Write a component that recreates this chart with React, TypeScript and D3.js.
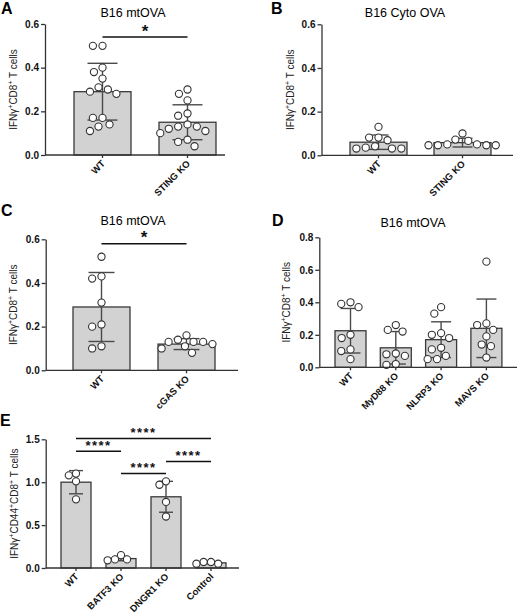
import React, { useEffect, useRef } from "react";
import * as d3 from "d3";

const W = 520;
const H = 615;
const FONT = "Arial, 'Liberation Sans', Helvetica, sans-serif";

// ---- data ----
const aCats = ["WT", "STING KO"];
const aWT = [0.50, 0.50, 0.40, 0.38, 0.35, 0.31, 0.30, 0.29, 0.28, 0.17, 0.17, 0.14, 0.13, 0.11];
const aKO = [0.30, 0.28, 0.25, 0.19, 0.18, 0.14, 0.13, 0.13, 0.12, 0.11, 0.10, 0.07, 0.06, 0.04];
const aMeans = [0.29, 0.15];
const aSD = [0.13, 0.08];

const bCats = ["WT", "STING KO"];
const bWT = [0.13, 0.081, 0.081, 0.069, 0.041, 0.031, 0.031, 0.031, 0.035];
const bKO = [0.10, 0.072, 0.066, 0.05, 0.046, 0.046, 0.046, 0.046, 0.05];
const bMeans = [0.06, 0.058];
const bSD = [0.033, 0.02];

const cCats = ["WT", "cGAS KO"];
const cWT = [0.52, 0.43, 0.42, 0.31, 0.21, 0.20, 0.11, 0.10];
const cKO = [0.16, 0.14, 0.13, 0.13, 0.13, 0.12, 0.11, 0.10, 0.08];
const cMeans = [0.29, 0.12];
const cSD = [0.158, 0.025];

const dCats = ["WT", "MyD88 KO", "NLRP3 KO", "MAVS KO"];
const dWT = [0.40, 0.39, 0.37, 0.20, 0.18, 0.11, 0.10, 0.05];
const dMyD88 = [0.26, 0.23, 0.22, 0.085, 0.08, 0.07, 0.02, 0.015];
const dNLRP3 = [0.37, 0.33, 0.21, 0.20, 0.18, 0.12, 0.11, 0.07, 0.05, 0.05];
const dMAVS = [0.65, 0.27, 0.26, 0.23, 0.19, 0.14, 0.13, 0.06];
const dMeans = [0.225, 0.12, 0.17, 0.24];
const dSD = [0.137, 0.10, 0.11, 0.18];

const eCats = ["WT", "BATF3 KO", "DNGR1 KO", "Control"];
const eWT = [1.10, 1.08, 1.01, 0.80];
const eBATF3 = [0.15, 0.10, 0.10, 0.09];
const eDNGR1 = [1.01, 0.97, 0.77, 0.60];
const eCtrl = [0.07, 0.07, 0.05, 0.05];
const eMeans = [1.0, 0.11, 0.83, 0.06];
const eSD = [0.135, 0.025, 0.18, 0.012];

const sigA = [{ a: "WT", b: "STING KO", level: 0.54, label: "*" }];
const sigC = [{ a: "WT", b: "cGAS KO", level: 0.58, label: "*" }];
const sigE = [
    { a: "WT", b: "Control", level: 1.51, label: "****" },
    { a: "WT", b: "BATF3 KO", level: 1.36, label: "****" },
    { a: "DNGR1 KO", b: "Control", level: 1.24, label: "****" },
    { a: "BATF3 KO", b: "DNGR1 KO", level: 1.10, label: "****" },
];

const labelCD8: [string, boolean][] = [["IFNγ", false], ["+", true], ["CD8", false], ["+", true], [" T cells", false]];
const labelCD44: [string, boolean][] = [["IFNγ", false], ["+", true], ["CD44", false], ["+", true], ["CD8", false], ["+", true], [" T cells", false]];

type Sig = { a: string, b: string, level: number, label: string };

type Panel = {
    letter: string, letterX: number, letterY: number,
    title: string, titleX: number, titleY: number,
    cats: string[], points: number[][], means: number[], sds: number[],
    sig: Sig[], yMax: number, ticks: number[], yLabel: [string, boolean][], labelX: number,
    axisX: number, axisEnd: number, yBottom: number, yTop: number,
    c0: number, step: number, bw: number, cap: number, dot: number,
};

const panels: Panel[] = [
    {
        letter: "A", letterX: 1, letterY: 14, title: "B16 mtOVA", titleX: 133, titleY: 16.5,
        cats: aCats, points: [aWT, aKO], means: aMeans, sds: aSD, sig: sigA,
        yMax: 0.6, ticks: [0, 0.2, 0.4, 0.6], yLabel: labelCD8, labelX: 17,
        axisX: 45, axisEnd: 225, yBottom: 155, yTop: 24, c0: 102.5, step: 85, bw: 57, cap: 30, dot: 9.6,
    },
    {
        letter: "B", letterX: 271, letterY: 14, title: "B16 Cyto OVA", titleX: 405, titleY: 16.5,
        cats: bCats, points: [bWT, bKO], means: bMeans, sds: bSD, sig: [],
        yMax: 0.6, ticks: [0, 0.2, 0.4, 0.6], yLabel: labelCD8, labelX: 294,
        axisX: 321.5, axisEnd: 513, yBottom: 155.3, yTop: 24.3, c0: 378.5, step: 84, bw: 57, cap: 20, dot: 9.4,
    },
    {
        letter: "C", letterX: 1, letterY: 215.5, title: "B16 mtOVA", titleX: 133, titleY: 224.5,
        cats: cCats, points: [cWT, cKO], means: cMeans, sds: cSD, sig: sigC,
        yMax: 0.6, ticks: [0, 0.2, 0.4, 0.6], yLabel: labelCD8, labelX: 17,
        axisX: 45.7, axisEnd: 238, yBottom: 370.3, yTop: 239.3, c0: 101.5, step: 85, bw: 57, cap: 26, dot: 9.6,
    },
    {
        letter: "D", letterX: 272, letterY: 225.5, title: "B16 mtOVA", titleX: 413, titleY: 226.5,
        cats: dCats, points: [dWT, dMyD88, dNLRP3, dMAVS], means: dMeans, sds: dSD, sig: [],
        yMax: 0.8, ticks: [0, 0.2, 0.4, 0.6, 0.8], yLabel: labelCD8, labelX: 290,
        axisX: 319.3, axisEnd: 517, yBottom: 367.3, yTop: 237.3, c0: 350.5, step: 45.3, bw: 31, cap: 20, dot: 9.4,
    },
    {
        letter: "E", letterX: 0, letterY: 425.5, title: "", titleX: 0, titleY: 0,
        cats: eCats, points: [eWT, eBATF3, eDNGR1, eCtrl], means: eMeans, sds: eSD, sig: sigE,
        yMax: 1.5, ticks: [0, 0.5, 1.0, 1.5], yLabel: labelCD44, labelX: 18,
        axisX: 45.7, axisEnd: 239, yBottom: 568, yTop: 439.3, c0: 76, step: 45, bw: 30, cap: 14, dot: 7.4,
    },
];

// simple beeswarm: nearest free horizontal offset for each dot
const swarm = (vals: number[], y: (v: number) => number, D: number) => {
    const order = d3.range(vals.length).sort((i, j) => vals[j] - vals[i]);
    const placed: { x: number, y: number }[] = [];
    const out: number[] = new Array(vals.length).fill(0);
    for (const i of order) {
        const py = y(vals[i]);
        const cands = [0];
        for (const p of placed) {
            const dy = Math.abs(p.y - py);
            if (dy < D) {
                const dx = Math.sqrt(D * D - dy * dy);
                cands.push(p.x + dx, p.x - dx);
            }
        }
        cands.sort((a, b) => Math.abs(a) - Math.abs(b) || a - b);
        const ok = cands.find(cx => placed.every(p => (p.x - cx) ** 2 + (p.y - py) ** 2 >= D * D - 0.01)) ?? 0;
        placed.push({ x: ok, y: py });
        out[i] = ok;
    }
    return out;
};

const drawPanel = (svg: d3.Selection<SVGSVGElement, unknown, null, undefined>, p: Panel) => {
    const g = svg.append("g").attr("font-family", FONT);
    const n = p.cats.length;
    const pad = 1 - p.bw / p.step;
    const x = d3.scaleBand<string>()
        .domain(p.cats)
        .range([p.c0 - p.step / 2, p.c0 - p.step / 2 + n * p.step])
        .paddingInner(pad)
        .paddingOuter(pad / 2);
    const y = d3.scaleLinear().domain([0, p.yMax]).range([p.yBottom, p.yTop]);
    const cx = (c: string) => (x(c) ?? 0) + x.bandwidth() / 2;

    g.append("text")
        .attr("x", p.letterX).attr("y", p.letterY)
        .attr("font-size", 16).attr("font-weight", "bold")
        .text(p.letter);

    if (p.title)
        g.append("text")
            .attr("x", p.titleX).attr("y", p.titleY)
            .attr("text-anchor", "middle").attr("font-size", 12.5)
            .text(p.title);

    // bars
    g.append("g").selectAll("rect")
        .data(p.cats)
        .join("rect")
        .attr("x", d => x(d) ?? 0)
        .attr("y", (d, i) => y(p.means[i]))
        .attr("width", x.bandwidth())
        .attr("height", (d, i) => p.yBottom - y(p.means[i]))
        .attr("fill", "#d2d2d2")
        .attr("stroke", "#3a3a3a")
        .attr("stroke-width", 1.3);

    // error bars (mean ± SD)
    const err = g.append("g").attr("stroke", "#4a4a4a").attr("stroke-width", 1.4);
    p.cats.forEach((c, i) => {
        const hi = y(p.means[i] + p.sds[i]);
        const lo = y(Math.max(0, p.means[i] - p.sds[i]));
        err.append("line").attr("x1", cx(c)).attr("x2", cx(c)).attr("y1", hi).attr("y2", lo);
        err.append("line").attr("x1", cx(c) - p.cap / 2).attr("x2", cx(c) + p.cap / 2).attr("y1", hi).attr("y2", hi);
        err.append("line").attr("x1", cx(c) - p.cap / 2).attr("x2", cx(c) + p.cap / 2).attr("y1", lo).attr("y2", lo);
    });

    // dots
    p.cats.forEach((c, i) => {
        const offs = swarm(p.points[i], y, p.dot);
        g.append("g").selectAll("circle")
            .data(p.points[i])
            .join("circle")
            .attr("cx", (d, k) => cx(c) + offs[k])
            .attr("cy", d => y(d))
            .attr("r", 3.6)
            .attr("fill", "white")
            .attr("stroke", "#333")
            .attr("stroke-width", 1.1);
    });

    // y axis
    const ya = g.append("g")
        .attr("transform", `translate(${p.axisX},0)`)
        .call(d3.axisLeft(y).tickValues(p.ticks).tickSize(4).tickSizeOuter(0).tickFormat(d3.format(".1f")));
    ya.select(".domain").attr("stroke", "#333").attr("stroke-width", 1.3);
    ya.selectAll(".tick line").attr("stroke", "#333").attr("stroke-width", 1.3);
    ya.selectAll(".tick text").attr("font-family", FONT).attr("font-size", 10).attr("font-weight", "bold").attr("fill", "#111").attr("x", -6);

    // x axis
    g.append("line")
        .attr("x1", p.axisX).attr("x2", p.axisEnd)
        .attr("y1", p.yBottom).attr("y2", p.yBottom)
        .attr("stroke", "#333").attr("stroke-width", 1.3);
    g.append("g").selectAll("line")
        .data(p.cats)
        .join("line")
        .attr("x1", d => cx(d)).attr("x2", d => cx(d))
        .attr("y1", p.yBottom).attr("y2", p.yBottom + 3)
        .attr("stroke", "#333").attr("stroke-width", 1.3);
    g.append("g").selectAll("text")
        .data(p.cats)
        .join("text")
        .attr("transform", d => `translate(${cx(d) - 1.5},${p.yBottom + 4.5}) rotate(-45)`)
        .attr("text-anchor", "end")
        .attr("dy", "0.7em")
        .attr("font-size", 9.5)
        .attr("font-weight", "bold")
        .attr("fill", "#111")
        .text(d => d);

    // y label
    const yl = g.append("text")
        .attr("transform", `translate(${p.labelX},${(p.yBottom + p.yTop) / 2}) rotate(-90)`)
        .attr("text-anchor", "middle")
        .attr("font-size", 10)
        .attr("fill", "#222");
    p.yLabel.forEach(([t, sup], k) => {
        const prevSup = k > 0 && p.yLabel[k - 1][1];
        yl.append("tspan")
            .attr("dy", sup ? -4 : prevSup ? 4 : 0)
            .attr("font-size", sup ? 7 : 10)
            .text(t);
    });

    // significance bars
    p.sig.forEach(s => {
        const ly = y(s.level);
        const multi = s.label.length > 1;
        g.append("line")
            .attr("x1", cx(s.a)).attr("x2", cx(s.b))
            .attr("y1", ly).attr("y2", ly)
            .attr("stroke", "#111").attr("stroke-width", 1.5);
        g.append("text")
            .attr("x", (cx(s.a) + cx(s.b)) / 2)
            .attr("y", multi ? ly - 1.5 : ly - 0.5)
            .attr("text-anchor", "middle")
            .attr("font-size", multi ? 13 : 17)
            .attr("font-weight", "bold")
            .attr("letter-spacing", multi ? 1.5 : 0)
            .attr("fill", "#111")
            .text(s.label);
    });
};

const App = () => {
    const ref = useRef<SVGSVGElement>(null);

    useEffect(() => {
        if (!ref.current) return;
        const svg = d3.select(ref.current);
        svg.selectAll("*").remove();
        panels.forEach(p => drawPanel(svg, p));
    }, []);

    return (
        <svg ref={ref} width={W} height={H}
            style={{ position: "absolute", left: 0, top: 0, background: "white" }} />
    );
};

export default App;
